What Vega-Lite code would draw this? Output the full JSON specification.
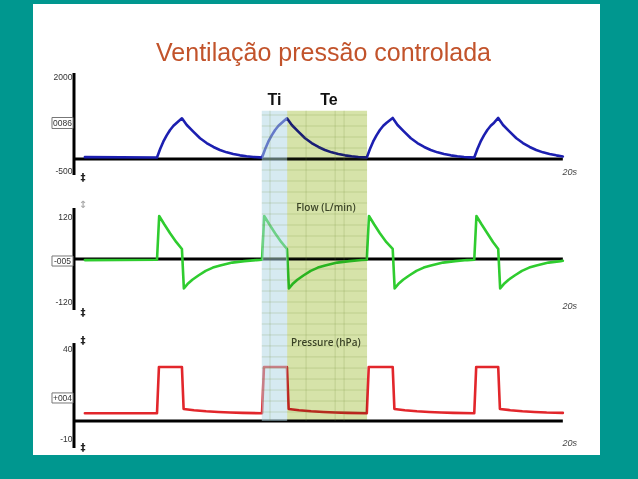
{
  "$schema": "https://vega.github.io/schema/vega-lite/v6.json",
  "background": "#00978f",
  "padding": {"left": 33, "top": 4, "right": 38, "bottom": 24},
  "spacing": 0,
  "bounds": "flush",
  "title": {"text": "Ventilação pressão controlada", "color": "#c2532b", "fontSize": 25, "font": "Liberation Sans", "fontWeight": "normal", "anchor": "middle", "offset": -62, "dx": 7},
  "config": {"view": {"stroke": null, "fill": "white"}},
  "datasets": {
    "volume": [
      {"t":0.45,"v":45},{"t":3.43,"v":35},
      {"t":3.56,"v":240},{"t":3.69,"v":417},{"t":3.83,"v":570},{"t":3.97,"v":700},{"t":4.11,"v":800},{"t":4.25,"v":875},{"t":4.46,"v":980},
      {"t":4.66,"v":820},{"t":4.93,"v":660},{"t":5.21,"v":500},{"t":5.48,"v":385},{"t":5.76,"v":290},{"t":6.03,"v":217},{"t":6.31,"v":160},{"t":6.58,"v":120},{"t":6.86,"v":88},{"t":7.13,"v":65},{"t":7.41,"v":50},{"t":7.68,"v":40},
      {"t":7.77,"v":35},{"t":7.90,"v":240},{"t":8.03,"v":417},{"t":8.17,"v":570},{"t":8.31,"v":700},{"t":8.45,"v":800},{"t":8.59,"v":875},{"t":8.80,"v":980},
      {"t":9.00,"v":820},{"t":9.27,"v":660},{"t":9.55,"v":500},{"t":9.82,"v":385},{"t":10.10,"v":290},{"t":10.37,"v":217},{"t":10.65,"v":160},{"t":10.92,"v":120},{"t":11.20,"v":88},{"t":11.47,"v":65},{"t":11.75,"v":50},{"t":12.02,"v":40},
      {"t":12.10,"v":35},{"t":12.23,"v":240},{"t":12.36,"v":417},{"t":12.50,"v":570},{"t":12.64,"v":700},{"t":12.78,"v":800},{"t":12.92,"v":875},{"t":13.17,"v":990},
      {"t":13.37,"v":820},{"t":13.64,"v":660},{"t":13.92,"v":500},{"t":14.19,"v":385},{"t":14.47,"v":290},{"t":14.74,"v":217},{"t":15.02,"v":160},{"t":15.29,"v":120},{"t":15.57,"v":88},{"t":15.84,"v":65},{"t":16.12,"v":50},{"t":16.39,"v":40},
      {"t":16.54,"v":35},{"t":16.67,"v":240},{"t":16.80,"v":417},{"t":16.94,"v":570},{"t":17.08,"v":700},{"t":17.22,"v":800},{"t":17.36,"v":875},{"t":17.53,"v":990},
      {"t":17.73,"v":820},{"t":18.00,"v":660},{"t":18.28,"v":500},{"t":18.55,"v":385},{"t":18.83,"v":290},{"t":19.10,"v":217},{"t":19.38,"v":160},{"t":19.65,"v":120},{"t":19.93,"v":88},{"t":20.20,"v":62}
    ],
    "flow": [
      {"t":0.45,"v":-3},{"t":3.43,"v":-2},
      {"t":3.52,"v":120},{"t":3.73,"v":97},{"t":3.97,"v":72},{"t":4.23,"v":47},{"t":4.46,"v":28},{"t":4.54,"v":-82},{"t":4.69,"v":-70},{"t":4.89,"v":-58},{"t":5.14,"v":-46},{"t":5.44,"v":-33},{"t":5.74,"v":-24},{"t":6.04,"v":-18},{"t":6.54,"v":-10},{"t":7.04,"v":-6},{"t":7.54,"v":-3},{"t":7.77,"v":-2},
      {"t":7.86,"v":120},{"t":8.07,"v":97},{"t":8.31,"v":72},{"t":8.57,"v":47},{"t":8.80,"v":28},{"t":8.88,"v":-82},{"t":9.03,"v":-70},{"t":9.23,"v":-58},{"t":9.48,"v":-46},{"t":9.78,"v":-33},{"t":10.08,"v":-24},{"t":10.38,"v":-18},{"t":10.88,"v":-10},{"t":11.38,"v":-6},{"t":11.88,"v":-3},{"t":12.10,"v":-2},
      {"t":12.19,"v":120},{"t":12.40,"v":97},{"t":12.64,"v":72},{"t":12.91,"v":47},{"t":13.17,"v":28},{"t":13.25,"v":-82},{"t":13.40,"v":-70},{"t":13.60,"v":-58},{"t":13.85,"v":-46},{"t":14.15,"v":-33},{"t":14.45,"v":-24},{"t":14.75,"v":-18},{"t":15.25,"v":-10},{"t":15.75,"v":-6},{"t":16.25,"v":-3},{"t":16.54,"v":-2},
      {"t":16.63,"v":120},{"t":16.84,"v":97},{"t":17.08,"v":72},{"t":17.32,"v":47},{"t":17.53,"v":28},{"t":17.61,"v":-82},{"t":17.76,"v":-70},{"t":17.96,"v":-58},{"t":18.21,"v":-46},{"t":18.51,"v":-33},{"t":18.81,"v":-24},{"t":19.11,"v":-18},{"t":19.61,"v":-10},{"t":20.11,"v":-6},{"t":20.20,"v":-5}
    ],
    "pressure": [
      {"t":0.45,"v":4.3},{"t":3.43,"v":4.3},{"t":3.51,"v":30},{"t":4.46,"v":30},{"t":4.53,"v":6.7},{"t":4.96,"v":6.0},{"t":5.46,"v":5.4},{"t":5.96,"v":5.0},{"t":6.46,"v":4.7},{"t":6.96,"v":4.5},{"t":7.77,"v":4.3},
      {"t":7.85,"v":30},{"t":8.80,"v":30},{"t":8.87,"v":6.7},{"t":9.30,"v":6.0},{"t":9.80,"v":5.4},{"t":10.30,"v":5.0},{"t":10.80,"v":4.7},{"t":11.30,"v":4.5},{"t":12.10,"v":4.3},
      {"t":12.18,"v":30},{"t":13.17,"v":30},{"t":13.24,"v":6.7},{"t":13.67,"v":6.0},{"t":14.17,"v":5.4},{"t":14.67,"v":5.0},{"t":15.17,"v":4.7},{"t":15.67,"v":4.5},{"t":16.54,"v":4.3},
      {"t":16.62,"v":30},{"t":17.53,"v":30},{"t":17.60,"v":6.7},{"t":18.03,"v":6.0},{"t":18.53,"v":5.4},{"t":19.03,"v":5.0},{"t":19.53,"v":4.7},{"t":20.20,"v":4.5}
    ],
    "ti": [{"phase":"Ti","t0":7.76,"t1":8.81}],
    "te": [{"phase":"Te","t0":8.81,"t1":12.11}],
    "gridV": [{"t":8.10},{"t":9.59},{"t":10.79},{"t":11.16}],
    "gridVol": [{"v":1060},{"v":795},{"v":530},{"v":265},{"v":0},{"v":-265},{"v":-530}],
    "gridFlow": [{"v":187.1},{"v":156.4},{"v":125.7},{"v":95.0},{"v":64.2},{"v":33.5},{"v":2.8},{"v":-27.9},{"v":-58.7},{"v":-89.4},{"v":-120.1},{"v":-150.8},{"v":-181.5}],
    "gridPres": [{"v":47.8},{"v":41.7},{"v":35.6},{"v":29.4},{"v":23.3},{"v":17.2},{"v":11.1},{"v":5.0}]
  },
  "vconcat": [
    {
      "width": 567, "height": 186,
      "layer": [
        {"data": {"values": [{}]}, "mark": {"type": "rule", "color": "black", "strokeWidth": 3},
         "encoding": {
           "x": {"datum": 0, "type": "quantitative", "title": null, "scale": {"domain": [-1.694, 21.736], "nice": false, "zero": false},
                 "axis": {"values": [20], "labelExpr": "'20s'", "domain": false, "ticks": false, "tickSize": 0, "grid": false, "labelAlign": "left", "labelBaseline": "middle", "labelOffset": 4, "labelPadding": 0, "offset": -19, "labelFontSize": 9, "labelFontStyle": "italic", "labelColor": "#444", "labelFont": "Liberation Sans", "title": null}},
           "x2": {"datum": 20.2},
           "y": {"datum": 0, "type": "quantitative", "title": null, "scale": {"domain": [-747, 3735], "nice": false, "zero": false},
                 "axis": {"values": [-289, 2000], "labelExpr": "datum.value < 0 ? '-500' : '2000'", "domain": false, "ticks": false, "tickSize": 0, "grid": false, "offset": -41, "labelPadding": 2, "labelFontSize": 8.5, "labelColor": "#333", "labelFont": "Liberation Sans", "title": null}}
         }},
        {"data": {"values": [{}]}, "mark": {"type": "rule", "color": "black", "strokeWidth": 3},
         "encoding": {"x": {"datum": 0}, "y": {"datum": -386}, "y2": {"datum": 2072}}},
        {"data": {"name": "volume"}, "mark": {"type": "line", "color": "#1c1fb0", "strokeWidth": 2.6, "strokeJoin": "round", "strokeCap": "round"},
         "encoding": {"x": {"field": "t", "type": "quantitative", "title": null}, "y": {"field": "v", "type": "quantitative", "title": null}}},
        {"data": {"name": "ti"}, "mark": {"type": "rect", "opacity": 0.5, "color": "#add5e3"},
         "encoding": {"x": {"field": "t0", "type": "quantitative", "title": null}, "x2": {"field": "t1"}, "y": {"datum": 1164}, "y2": {"datum": -747}}},
        {"data": {"name": "te"}, "mark": {"type": "rect", "color": "#d6e3a9", "blend": "multiply"},
         "encoding": {"x": {"field": "t0", "type": "quantitative", "title": null}, "x2": {"field": "t1"}, "y": {"datum": 1164}, "y2": {"datum": -747}}},
        {"data": {"name": "gridVol"}, "mark": {"type": "rule", "color": "#6f8a30", "opacity": 0.22, "strokeWidth": 1},
         "encoding": {"y": {"field": "v", "type": "quantitative", "title": null}, "x": {"datum": 7.76}, "x2": {"datum": 12.11}}},
        {"data": {"name": "gridV"}, "mark": {"type": "rule", "color": "#6f8a30", "opacity": 0.22, "strokeWidth": 1},
         "encoding": {"x": {"field": "t", "type": "quantitative", "title": null}, "y": {"datum": 1164}, "y2": {"datum": -747}}},
        {"data": {"values": [{"label": "Ti", "t": 8.285}, {"label": "Te", "t": 10.537}]}, "mark": {"type": "text", "fontSize": 16, "fontWeight": "bold", "font": "Liberation Sans", "color": "#111", "baseline": "middle"},
         "encoding": {"x": {"field": "t", "type": "quantitative", "title": null}, "y": {"datum": 1422}, "text": {"field": "label"}}},
        {"data": {"values": [{}]}, "mark": {"type": "rect", "fill": "white", "stroke": "#777", "strokeWidth": 1},
         "encoding": {"x": {"datum": -0.909}, "x2": {"datum": -0.041}, "y": {"datum": 1000}, "y2": {"datum": 735}}},
        {"data": {"values": [{"label": "0086", "t": -0.475, "v": 867}]}, "mark": {"type": "text", "fontSize": 8.5, "font": "Liberation Sans", "color": "#333", "baseline": "middle"},
         "encoding": {"x": {"field": "t", "type": "quantitative", "title": null}, "y": {"field": "v", "type": "quantitative", "title": null}, "text": {"field": "label"}}},
        {"data": {"values": [{"label": "‡", "t": 0.372, "v": -458}]}, "mark": {"type": "text", "fontSize": 10, "fontWeight": "bold", "font": "DejaVu Sans", "color": "#222", "baseline": "middle"},
         "encoding": {"x": {"field": "t", "type": "quantitative", "title": null}, "y": {"field": "v", "type": "quantitative", "title": null}, "text": {"field": "label"}}}
      ]
    },
    {
      "width": 567, "height": 135,
      "layer": [
        {"data": {"values": [{}]}, "mark": {"type": "rule", "color": "black", "strokeWidth": 3},
         "encoding": {
           "x": {"datum": 0, "type": "quantitative", "title": null, "scale": {"domain": [-1.694, 21.736], "nice": false, "zero": false},
                 "axis": {"values": [20], "labelExpr": "'20s'", "domain": false, "ticks": false, "tickSize": 0, "grid": false, "labelAlign": "left", "labelBaseline": "middle", "labelOffset": 4, "labelPadding": 0, "offset": -20, "labelFontSize": 9, "labelFontStyle": "italic", "labelColor": "#444", "labelFont": "Liberation Sans", "title": null}},
           "x2": {"datum": 20.2},
           "y": {"datum": 0, "type": "quantitative", "title": null, "scale": {"domain": [-184.3, 192.7], "nice": false, "zero": false},
                 "axis": {"values": [-120, 120], "labelExpr": "datum.value < 0 ? '-120' : '120'", "domain": false, "ticks": false, "tickSize": 0, "grid": false, "offset": -41, "labelPadding": 2, "labelFontSize": 8.5, "labelColor": "#333", "labelFont": "Liberation Sans", "title": null}}
         }},
        {"data": {"values": [{}]}, "mark": {"type": "rule", "color": "black", "strokeWidth": 3},
         "encoding": {"x": {"datum": 0}, "y": {"datum": -142.4}, "y2": {"datum": 142.4}}},
        {"data": {"name": "flow"}, "mark": {"type": "line", "color": "#2fcc2f", "strokeWidth": 2.6, "strokeJoin": "round", "strokeCap": "round"},
         "encoding": {"x": {"field": "t", "type": "quantitative", "title": null}, "y": {"field": "v", "type": "quantitative", "title": null}}},
        {"data": {"name": "ti"}, "mark": {"type": "rect", "opacity": 0.5, "color": "#add5e3"},
         "encoding": {"x": {"field": "t0", "type": "quantitative", "title": null}, "x2": {"field": "t1"}}},
        {"data": {"name": "te"}, "mark": {"type": "rect", "color": "#d6e3a9", "blend": "multiply"},
         "encoding": {"x": {"field": "t0", "type": "quantitative", "title": null}, "x2": {"field": "t1"}}},
        {"data": {"name": "gridFlow"}, "mark": {"type": "rule", "color": "#6f8a30", "opacity": 0.22, "strokeWidth": 1},
         "encoding": {"y": {"field": "v", "type": "quantitative", "title": null}, "x": {"datum": 7.76}, "x2": {"datum": 12.11}}},
        {"data": {"name": "gridV"}, "mark": {"type": "rule", "color": "#6f8a30", "opacity": 0.22, "strokeWidth": 1},
         "encoding": {"x": {"field": "t", "type": "quantitative", "title": null}}},
        {"data": {"values": [{"label": "Flow (L/min)"}]}, "mark": {"type": "text", "fontSize": 10, "fontWeight": 600, "font": "Open Sans", "color": "#3a4326", "baseline": "middle"},
         "encoding": {"x": {"datum": 10.41}, "y": {"datum": 142.4}, "text": {"field": "label"}}},
        {"data": {"values": [{}]}, "mark": {"type": "rect", "fill": "white", "stroke": "#777", "strokeWidth": 1},
         "encoding": {"x": {"datum": -0.909}, "x2": {"datum": -0.041}, "y": {"datum": 8.4}, "y2": {"datum": -19.6}}},
        {"data": {"values": [{"label": "-005", "t": -0.475, "v": -5.6}]}, "mark": {"type": "text", "fontSize": 8.5, "font": "Liberation Sans", "color": "#333", "baseline": "middle"},
         "encoding": {"x": {"field": "t", "type": "quantitative", "title": null}, "y": {"field": "v", "type": "quantitative", "title": null}, "text": {"field": "label"}}},
        {"data": {"values": [{"label": "‡", "t": 0.372, "v": -150.8, "tone": "dark"}, {"label": "↕", "t": 0.372, "v": 150.8, "tone": "light"}]}, "mark": {"type": "text", "fontSize": 10, "fontWeight": "bold", "font": "DejaVu Sans", "baseline": "middle"},
         "encoding": {"x": {"field": "t", "type": "quantitative", "title": null}, "y": {"field": "v", "type": "quantitative", "title": null}, "text": {"field": "label"},
                      "color": {"field": "tone", "type": "nominal", "scale": {"domain": ["dark", "light"], "range": ["#222", "#aaa"]}, "legend": null}}}
      ]
    },
    {
      "width": 567, "height": 130,
      "layer": [
        {"data": {"values": [{}]}, "mark": {"type": "rule", "color": "black", "strokeWidth": 3},
         "encoding": {
           "x": {"datum": 0, "type": "quantitative", "title": null, "scale": {"domain": [-1.694, 21.736], "nice": false, "zero": false},
                 "axis": {"values": [20], "labelExpr": "'20s'", "domain": false, "ticks": false, "tickSize": 0, "grid": false, "labelAlign": "left", "labelBaseline": "middle", "labelOffset": 4, "labelPadding": 0, "offset": -13, "labelFontSize": 9, "labelFontStyle": "italic", "labelColor": "#444", "labelFont": "Liberation Sans", "title": null}},
           "x2": {"datum": 20.2},
           "y": {"datum": 0, "type": "quantitative", "title": null, "scale": {"domain": [-18.89, 53.33], "nice": false, "zero": false},
                 "axis": {"values": [-10, 40], "labelExpr": "datum.value < 0 ? '-10' : '40'", "domain": false, "ticks": false, "tickSize": 0, "grid": false, "offset": -41, "labelPadding": 2, "labelFontSize": 8.5, "labelColor": "#333", "labelFont": "Liberation Sans", "title": null}}
         }},
        {"data": {"values": [{}]}, "mark": {"type": "rule", "color": "black", "strokeWidth": 3},
         "encoding": {"x": {"datum": 0}, "y": {"datum": -15}, "y2": {"datum": 43.3}}},
        {"data": {"name": "pressure"}, "mark": {"type": "line", "color": "#e2262b", "strokeWidth": 2.6, "strokeJoin": "round", "strokeCap": "round"},
         "encoding": {"x": {"field": "t", "type": "quantitative", "title": null}, "y": {"field": "v", "type": "quantitative", "title": null}}},
        {"data": {"name": "ti"}, "mark": {"type": "rect", "opacity": 0.5, "color": "#add5e3"},
         "encoding": {"x": {"field": "t0", "type": "quantitative", "title": null}, "x2": {"field": "t1"}, "y": {"datum": 53.33}, "y2": {"datum": 0}}},
        {"data": {"name": "te"}, "mark": {"type": "rect", "color": "#d6e3a9", "blend": "multiply"},
         "encoding": {"x": {"field": "t0", "type": "quantitative", "title": null}, "x2": {"field": "t1"}, "y": {"datum": 53.33}, "y2": {"datum": 0}}},
        {"data": {"name": "gridPres"}, "mark": {"type": "rule", "color": "#6f8a30", "opacity": 0.22, "strokeWidth": 1},
         "encoding": {"y": {"field": "v", "type": "quantitative", "title": null}, "x": {"datum": 7.76}, "x2": {"datum": 12.11}}},
        {"data": {"name": "gridV"}, "mark": {"type": "rule", "color": "#6f8a30", "opacity": 0.22, "strokeWidth": 1},
         "encoding": {"x": {"field": "t", "type": "quantitative", "title": null}, "y": {"datum": 53.33}, "y2": {"datum": 0}}},
        {"data": {"values": [{"label": "Pressure (hPa)"}]}, "mark": {"type": "text", "fontSize": 10, "fontWeight": 600, "font": "Open Sans", "color": "#3a4326", "baseline": "middle"},
         "encoding": {"x": {"datum": 10.41}, "y": {"datum": 43.3}, "text": {"field": "label"}}},
        {"data": {"values": [{}]}, "mark": {"type": "rect", "fill": "white", "stroke": "#777", "strokeWidth": 1},
         "encoding": {"x": {"datum": -0.909}, "x2": {"datum": -0.041}, "y": {"datum": 15.6}, "y2": {"datum": 10.0}}},
        {"data": {"values": [{"label": "+004", "t": -0.475, "v": 12.8}]}, "mark": {"type": "text", "fontSize": 8.5, "font": "Liberation Sans", "color": "#333", "baseline": "middle"},
         "encoding": {"x": {"field": "t", "type": "quantitative", "title": null}, "y": {"field": "v", "type": "quantitative", "title": null}, "text": {"field": "label"}}},
        {"data": {"values": [{"label": "‡", "t": 0.372, "v": -15}, {"label": "‡", "t": 0.372, "v": 44.4}]}, "mark": {"type": "text", "fontSize": 10, "fontWeight": "bold", "font": "DejaVu Sans", "color": "#222", "baseline": "middle"},
         "encoding": {"x": {"field": "t", "type": "quantitative", "title": null}, "y": {"field": "v", "type": "quantitative", "title": null}, "text": {"field": "label"}}}
      ]
    }
  ]
}
